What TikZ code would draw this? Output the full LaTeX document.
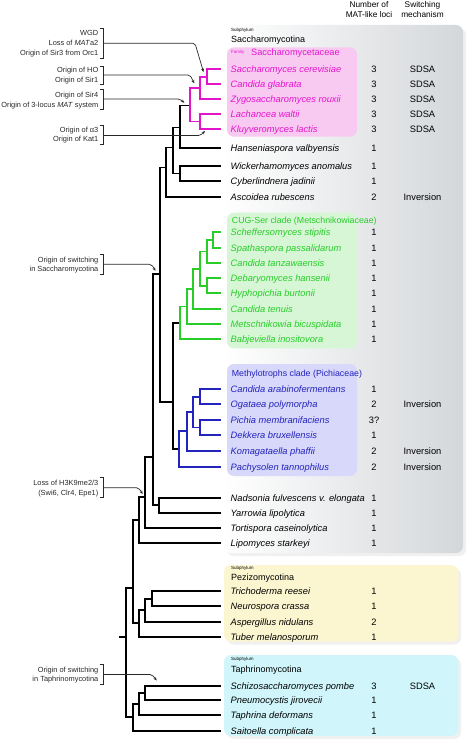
\documentclass[tikz,border=0pt]{standalone}
\usepackage{fontspec}
\setmainfont{Liberation Sans}
\usetikzlibrary{arrows.meta}
\definecolor{mag}{RGB}{228,20,205}
\definecolor{grn}{RGB}{40,205,40}
\definecolor{blu}{RGB}{35,35,190}
\definecolor{pinkbox}{RGB}{248,202,242}
\definecolor{greenbox}{RGB}{214,246,214}
\definecolor{bluebox}{RGB}{216,216,250}
\definecolor{yelbox}{RGB}{252,246,208}
\definecolor{cyanbox}{RGB}{208,246,251}
\definecolor{panelgray}{RGB}{212,215,218}
\definecolor{anncol}{RGB}{40,40,40}
\newcommand{\leafrow}[5]{%
  \coordinate (#1) at (221,#2);
  \node[leaf,text=#5] (#1t) at (230.5,#2) {#3};
  \node[num] (#1n) at (374,#2) {#4};
}
\begin{document}
\begin{tikzpicture}[x=1pt,y=-1pt,
  tree/.style={line width=1.9pt},
  leaf/.style={anchor=west, inner sep=0pt, text height=6.6pt, text depth=0pt, font=\fontsize{9.3}{11}\selectfont\itshape},
  num/.style={anchor=center, inner sep=0pt, text height=6.6pt, text depth=0pt, font=\fontsize{9.3}{11}\selectfont},
  ann/.style={anchor=east, inner sep=0pt, text height=5.3pt, text depth=0pt, font=\fontsize{7.4}{9}\selectfont, text=anncol},
  brk/.style={draw=anncol, line width=0.7pt},
  pointer/.style={draw=anncol, line width=0.7pt, -{Stealth[length=3.5pt,width=3pt]}, rounded corners=2pt},
  tinylbl/.style={anchor=west, inner sep=0pt, font=\fontsize{4.5}{5}\selectfont},
  grp/.style={anchor=west, inner sep=0pt, text height=6.5pt, text depth=0pt, font=\fontsize{9}{11}\selectfont},
  hdr/.style={anchor=center, inner sep=0pt, text height=6pt, text depth=0pt, font=\fontsize{8.3}{10}\selectfont},
  box/.style={rounded corners=7pt}
]
\useasboundingbox (0,0) rectangle (474,752);

% ---------- panels ----------
\fill[black, opacity=0.06, box] (227,28) rectangle (466,556);
\shade[left color=white, right color=panelgray, box] (224,25) rectangle (463,553);
\fill[pinkbox, box] (227,47.3) rectangle (357,136.7);
\fill[greenbox, box] (227,212.7) rectangle (357,348.3);
\fill[bluebox, box] (227,364) rectangle (357,476);
\fill[black, opacity=0.06, box] (227,568) rectangle (461,644.5);
\fill[yelbox, box] (224,565) rectangle (458.3,641.7);
\fill[black, opacity=0.06, box] (227,658) rectangle (461,739);
\fill[cyanbox, box] (224,655) rectangle (458.3,736);

% ---------- headers ----------
\node[hdr] (h1) at (369,5) {Number of};
\node[hdr] (h2) at (369,14.7) {MAT-like loci};
\node[hdr] (h3) at (422.5,4.8) {Switching};
\node[hdr] (h4) at (422.5,14.7) {mechanism};

\node[tinylbl] (s1a) at (231,30) {Subphylum};
\node[grp] (s1b) at (231,39.5) {Saccharomycotina};
\node[tinylbl,text=mag] (f1a) at (231,52.7) {Family};
\node[grp,text=mag,font=\fontsize{9.2}{11}\selectfont] (f1b) at (251,52.7) {Saccharomycetaceae};
\node[grp,text=grn,font=\fontsize{8.8}{11}\selectfont] (g1) at (231.7,220.7) {CUG-Ser clade (Metschnikowiaceae)};
\node[grp,text=blu,font=\fontsize{8.8}{11}\selectfont] (g2) at (231.7,373) {Methylotrophs clade (Pichiaceae)};
\node[tinylbl] (s2a) at (231,568.8) {Subphylum};
\node[grp] (s2b) at (231,577.3) {Pezizomycotina};
\node[tinylbl] (s3a) at (231,659.5) {Subphylum};
\node[grp] (s3b) at (231,669.3) {Taphrinomycotina};

% ---------- leaves ----------
\leafrow{l1}{69.3}{Saccharomyces cerevisiae}{3}{mag}
\leafrow{l2}{84}{Candida glabrata}{3}{mag}
\leafrow{l3}{99}{Zygosaccharomyces rouxii}{3}{mag}
\leafrow{l4}{114}{Lachancea waltii}{3}{mag}
\leafrow{l5}{129}{Kluyveromyces lactis}{3}{mag}
\leafrow{l6}{147.7}{Hanseniaspora valbyensis}{1}{black}
\leafrow{l7}{166}{Wickerhamomyces anomalus}{1}{black}
\leafrow{l8}{181}{Cyberlindnera jadinii}{1}{black}
\leafrow{l9}{197}{Ascoidea rubescens}{2}{black}
\leafrow{l10}{232}{Scheffersomyces stipitis}{1}{grn}
\leafrow{l11}{247.7}{Spathaspora passalidarum}{1}{grn}
\leafrow{l12}{262.7}{Candida tanzawaensis}{1}{grn}
\leafrow{l13}{278}{Debaryomyces hansenii}{1}{grn}
\leafrow{l14}{293.3}{Hyphopichia burtonii}{1}{grn}
\leafrow{l15}{308.7}{Candida tenuis}{1}{grn}
\leafrow{l16}{324}{Metschnikowia bicuspidata}{1}{grn}
\leafrow{l17}{339.3}{Babjeviella inositovora}{1}{grn}
\leafrow{l18}{389.3}{Candida arabinofermentans}{1}{blu}
\leafrow{l19}{404.3}{Ogataea polymorpha}{2}{blu}
\leafrow{l20}{420}{Pichia membranifaciens}{3?}{blu}
\leafrow{l21}{435}{Dekkera bruxellensis}{1}{blu}
\leafrow{l22}{451.3}{Komagataella phaffii}{2}{blu}
\leafrow{l23}{466.7}{Pachysolen tannophilus}{2}{blu}
\leafrow{l24}{497.7}{Nadsonia fulvescens v. elongata}{1}{black}
\leafrow{l25}{512.7}{Yarrowia lipolytica}{1}{black}
\leafrow{l26}{527.7}{Tortispora caseinolytica}{1}{black}
\leafrow{l27}{543.3}{Lipomyces starkeyi}{1}{black}
\leafrow{l28}{591.3}{Trichoderma reesei}{1}{black}
\leafrow{l29}{606}{Neurospora crassa}{1}{black}
\leafrow{l30}{621.7}{Aspergillus nidulans}{2}{black}
\leafrow{l31}{636.7}{Tuber melanosporum}{1}{black}
\leafrow{l32}{685.7}{Schizosaccharomyces pombe}{3}{black}
\leafrow{l33}{700.3}{Pneumocystis jirovecii}{1}{black}
\leafrow{l34}{715.3}{Taphrina deformans}{1}{black}
\leafrow{l35}{730.7}{Saitoella complicata}{1}{black}

% switching mechanism
\node[num] (m1) at (422.5,69.3) {SDSA};
\node[num] (m2) at (422.5,84) {SDSA};
\node[num] (m3) at (422.5,99) {SDSA};
\node[num] (m4) at (422.5,114) {SDSA};
\node[num] (m5) at (422.5,129) {SDSA};
\node[num] (m9) at (422.5,197) {Inversion};
\node[num] (m19) at (422.5,404.3) {Inversion};
\node[num] (m22) at (422.5,451.3) {Inversion};
\node[num] (m23) at (422.5,466.7) {Inversion};
\node[num] (m32) at (422.5,685.7) {SDSA};

% ---------- internal nodes ----------
\coordinate (nSC) at (206.7,76.7);
\coordinate (nSCZ) at (200,87.8);
\coordinate (nLK) at (200,121.5);
\coordinate (nFam) at (190,105.5);
\coordinate (nH) at (180,127.5);
\coordinate (nWC) at (180,173.5);
\coordinate (nHW) at (172.7,147.5);
\coordinate (nHWA) at (165.7,167.5);
\coordinate (nSS) at (213.3,239.8);
\coordinate (nSSC) at (206.7,251.5);
\coordinate (nDH) at (206.7,285.7);
\coordinate (nC4) at (200,269);
\coordinate (nC5) at (193.3,288.6);
\coordinate (nC6) at (186.7,306.5);
\coordinate (nCUG) at (180,322.8);
\coordinate (nCO) at (200,396.8);
\coordinate (nPD) at (200,427.5);
\coordinate (nM1) at (193.3,412);
\coordinate (nM2) at (186.7,431);
\coordinate (nMet) at (179.3,449);
\coordinate (nCM) at (172.7,402);
\coordinate (nX) at (160,274);
\coordinate (nNY) at (159.3,505.2);
\coordinate (nXN) at (152.7,456.7);
\coordinate (nT) at (145,497.3);
\coordinate (nSac) at (139.3,520);
\coordinate (nTN) at (152,598.7);
\coordinate (nTNA) at (145.3,610.2);
\coordinate (nPez) at (139.3,623.3);
\coordinate (nSP) at (132.7,588);
\coordinate (nSPn) at (145.3,693);
\coordinate (nSPT) at (139.3,704);
\coordinate (nTaph) at (132.7,717.2);
\coordinate (root) at (126,636.7);
\coordinate (rootstub) at (119.3,636.7);

% ---------- tree edges ----------
\draw[tree] (nX) |- (nHWA); \draw[tree] (nX) |- (nCM);
\draw[tree] (nHWA) |- (nHW); \draw[tree] (nHWA) |- (l9);
\draw[tree] (nHW) |- (nH); \draw[tree] (nHW) |- (nWC);
\draw[tree] (nH) |- (nFam); \draw[tree] (nH) |- (l6);
\draw[tree] (nWC) |- (l7); \draw[tree] (nWC) |- (l8);
\draw[tree,mag] (nFam) |- (nSCZ); \draw[tree,mag] (nFam) |- (nLK);
\draw[tree,mag] (nSCZ) |- (nSC); \draw[tree,mag] (nSCZ) |- (l3);
\draw[tree,mag] (nSC) |- (l1); \draw[tree,mag] (nSC) |- (l2);
\draw[tree,mag] (nLK) |- (l4); \draw[tree,mag] (nLK) |- (l5);
\draw[tree] (nCM) |- (nCUG); \draw[tree] (nCM) |- (nMet);
\draw[tree,grn] (nCUG) |- (nC6); \draw[tree,grn] (nCUG) |- (l17);
\draw[tree,grn] (nC6) |- (nC5); \draw[tree,grn] (nC6) |- (l16);
\draw[tree,grn] (nC5) |- (nC4); \draw[tree,grn] (nC5) |- (l15);
\draw[tree,grn] (nC4) |- (nSSC); \draw[tree,grn] (nC4) |- (nDH);
\draw[tree,grn] (nSSC) |- (nSS); \draw[tree,grn] (nSSC) |- (l12);
\draw[tree,grn] (nSS) |- (l10); \draw[tree,grn] (nSS) |- (l11);
\draw[tree,grn] (nDH) |- (l13); \draw[tree,grn] (nDH) |- (l14);
\draw[tree,blu] (nMet) |- (nM2); \draw[tree,blu] (nMet) |- (l23);
\draw[tree,blu] (nM2) |- (nM1); \draw[tree,blu] (nM2) |- (l22);
\draw[tree,blu] (nM1) |- (nCO); \draw[tree,blu] (nM1) |- (nPD);
\draw[tree,blu] (nCO) |- (l18); \draw[tree,blu] (nCO) |- (l19);
\draw[tree,blu] (nPD) |- (l20); \draw[tree,blu] (nPD) |- (l21);
\draw[tree] (nXN) |- (nX); \draw[tree] (nXN) |- (nNY);
\draw[tree] (nNY) |- (l24); \draw[tree] (nNY) |- (l25);
\draw[tree] (nT) |- (nXN); \draw[tree] (nT) |- (l26);
\draw[tree] (nSac) |- (nT); \draw[tree] (nSac) |- (l27);
\draw[tree] (nSP) |- (nSac); \draw[tree] (nSP) |- (nPez);
\draw[tree] (nPez) |- (nTNA); \draw[tree] (nPez) |- (l31);
\draw[tree] (nTNA) |- (nTN); \draw[tree] (nTNA) |- (l30);
\draw[tree] (nTN) |- (l28); \draw[tree] (nTN) |- (l29);
\draw[tree] (root) |- (nSP); \draw[tree] (root) |- (nTaph);
\draw[tree] (rootstub) -- (root);
\draw[tree] (nTaph) |- (nSPT); \draw[tree] (nTaph) |- (l35);
\draw[tree] (nSPT) |- (nSPn); \draw[tree] (nSPT) |- (l34);
\draw[tree] (nSPn) |- (l32); \draw[tree] (nSPn) |- (l33);

% ---------- annotations ----------
\node[ann] (a1a) at (98.5,33.3) {WGD};
\node[ann] (a1b) at (98.5,43.3) {Loss of \textit{MAT}a2};
\node[ann] (a1c) at (98.5,53.3) {Origin of Sir3 from Orc1};
\draw[brk] (99.5,28.3) -| (103,58.3) -- (99.5,58.3);
\coordinate (b1) at (103,43.3); \coordinate (p1) at (203.5,72);
\draw[pointer] (b1) -- (195,43.3) -- (p1);

\node[ann] (a2a) at (98.5,70) {Origin of HO};
\node[ann] (a2b) at (98.5,80) {Origin of Sir1};
\draw[brk] (99.5,66) -| (103,84) -- (99.5,84);
\coordinate (b2) at (103,75); \coordinate (p2) at (194.3,83.3);
\draw[pointer] (b2) -- (190,75) -- (p2);

\node[ann] (a3a) at (98.5,95) {Origin of Sir4};
\node[ann] (a3b) at (98.5,105) {Origin of 3-locus \textit{MAT} system};
\draw[brk] (99.5,89.3) -| (103,109.3) -- (99.5,109.3);
\coordinate (b3) at (103,99); \coordinate (p3) at (184.3,102.8);
\draw[pointer] (b3) -- (180,99) -- (p3);

\node[ann] (a4a) at (98.5,129.5) {Origin of α3};
\node[ann] (a4b) at (98.5,138.8) {Origin of Kat1};
\draw[brk] (99.5,125) -| (103,144) -- (99.5,144);
\coordinate (b4) at (103,135.5); \coordinate (p4) at (205,131);
\draw[pointer] (b4) -- (200.5,135.5) -- (p4);

\node[ann] (a5a) at (98.5,259.5) {Origin of switching};
\node[ann] (a5b) at (98.5,268.8) {in Saccharomycotina};
\draw[brk] (99.5,254.5) -| (103,274) -- (99.5,274);
\coordinate (b5) at (103,264.3); \coordinate (p5) at (155.5,270.8);
\draw[pointer] (b5) -- (151.5,264.3) -- (p5);

\node[ann] (a6a) at (98.5,483.3) {Loss of H3K9me2/3};
\node[ann] (a6b) at (98.5,492.7) {(Swi6, Clr4, Epe1)};
\draw[brk] (99.5,477.7) -| (103,497.7) -- (99.5,497.7);
\coordinate (b6) at (103,487.7); \coordinate (p6) at (142.7,494);
\draw[pointer] (b6) -- (138.5,487.7) -- (p6);

\node[ann] (a7a) at (98.5,670) {Origin of switching};
\node[ann] (a7b) at (98.5,679.2) {in Taphrinomycotina};
\draw[brk] (99.5,664.3) -| (103,684.7) -- (99.5,684.7);
\coordinate (b7) at (103,674.5); \coordinate (p7) at (156.7,680.5);
\draw[pointer] (b7) -- (152,674.5) -- (p7);
\end{tikzpicture}
\end{document}
